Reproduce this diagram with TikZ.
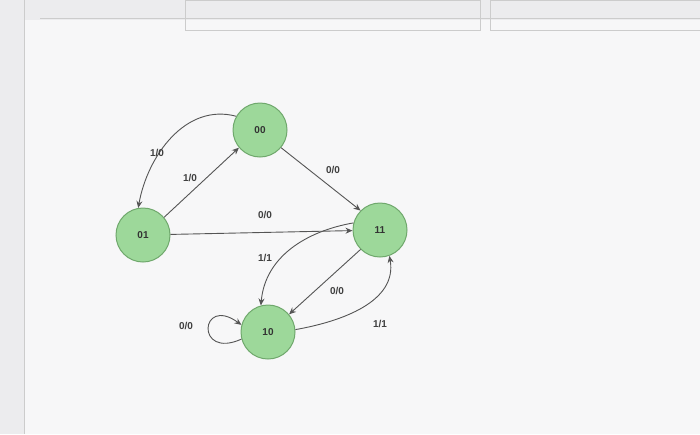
\documentclass[tikz,border=0pt]{standalone}
\usepackage{fontspec}
\setmainfont{Liberation Sans}
\usetikzlibrary{arrows.meta}
\definecolor{bg}{HTML}{ECECEE}
\definecolor{nfill}{HTML}{9DD89A}
\definecolor{nline}{HTML}{6FA86C}
\definecolor{edge}{HTML}{555555}
\tikzset{
  st/.style={circle,draw=nline,fill=nfill,line width=1pt,minimum size=54pt,inner sep=0pt,font=\normalsize\bfseries,text=black!80},
  tr/.style={draw=edge,line width=0.9pt,-{Stealth[length=7pt,width=6pt]}},
  lb/.style={font=\normalsize\bfseries,text=black!75}
}
\begin{document}
\begin{tikzpicture}[x=1pt,y=-1pt]
\useasboundingbox (0,0) rectangle (700,434);
\fill[bg] (0,0) rectangle (700,434);
\fill[white!60!bg] (24,20) rectangle (700,434);
\draw[black!20] (24,0) -- (24,434);
\draw[black!20] (40,18) -- (700,18);
\draw[black!20] (185,0) rectangle (480,30);
\draw[black!20] (490,0) rectangle (700,30);
\node[st] (s00) at (260,130) {00};
\node[st] (s01) at (143,235) {01};
\node[st] (s11) at (380,230) {11};
\node[st] (s10) at (268,332) {10};
\draw[tr] (s00.150) to[out=165,in=80] (s01.100);
\draw[tr] (s01.40) -- (s00.220);
\draw[tr] (s00.-40) -- (s11.135);
\draw[tr] (s01) -- (s11);
\draw[tr] (s11.165) to[out=190,in=85] (s10.105);
\draw[tr] (s11.225) -- (s10.40);
\draw[tr] (s10.195) .. controls (195,360) and (200,295) .. (s10.165);
\draw[tr] (s10.5) to[out=10,in=-80] (s11.-70);
\node[lb] at (157,153) {1/0};
\node[lb] at (190,178) {1/0};
\node[lb] at (333,170) {0/0};
\node[lb] at (265,215) {0/0};
\node[lb] at (265,258) {1/1};
\node[lb] at (337,291) {0/0};
\node[lb] at (186,326) {0/0};
\node[lb] at (380,324) {1/1};
\end{tikzpicture}
\end{document}
